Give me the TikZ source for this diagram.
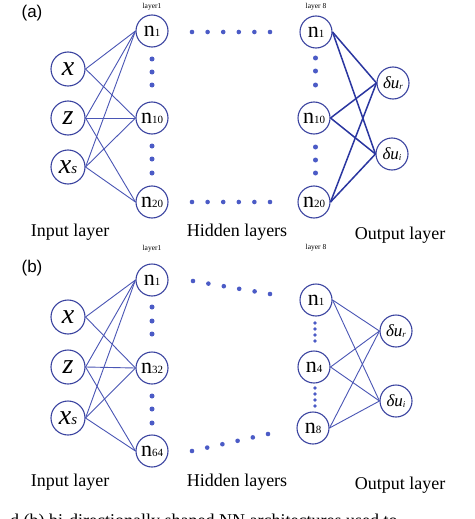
\documentclass[tikz,border=0pt]{standalone}
\usepackage{fontspec}
\setmainfont{Liberation Serif}
\newfontfamily\lsans{Liberation Sans}
\definecolor{nb}{HTML}{3B44A0}
\definecolor{eb}{HTML}{4A56B5}
\definecolor{db}{HTML}{2A36A0}
\definecolor{dotc}{HTML}{4B5BC6}
\newcommand\hn[1]{{\fontsize{22}{22}\selectfont n}{\fontsize{11}{11}\selectfont #1}}
\newcommand\du[1]{{\fontsize{17}{17}\selectfont\itshape δu}\raisebox{-1pt}{\fontsize{9}{9}\selectfont\itshape #1}}
\begin{document}
\begin{tikzpicture}[x=1pt,y=-1pt,
  inp/.style={circle, draw=nb, line width=1.1pt, minimum size=34pt, inner sep=0pt, font=\fontsize{28}{28}\selectfont\itshape},
  hid/.style={circle, draw=nb, line width=1.1pt, minimum size=32pt, inner sep=0pt},
  outn/.style={circle, draw=nb, line width=1.1pt, minimum size=32pt, inner sep=0pt},
  conn/.style={draw=eb, line width=0.9pt},
  conna/.style={draw=db, line width=1.5pt},
  lbl/.style={font=\fontsize{18}{18}\selectfont},
  lay/.style={font=\fontsize{7.5}{7.5}\selectfont},
  pan/.style={font=\lsans\fontsize{17}{17}\selectfont}]
\clip (0,0) rectangle (474,519);
\fill[white] (0,0) rectangle (474,519);

% ---------- panel (a) ----------
\node[pan] (pa) at (32,13) {(a)};
\node[lay] (la1) at (152,7) {layer1};
\node[lay] (la8) at (316,7) {layer 8};
\node[inp] (ax) at (68,69) {x};
\node[inp] (az) at (68,118) {z};
\node[inp] (axs) at (68,167) {x{\fontsize{15}{15}\selectfont s}};
\node[hid] (a1) at (152,31) {\hn{1}};
\node[hid] (a10) at (152,118) {\hn{10}};
\node[hid] (a20) at (152,202) {\hn{20}};
\node[hid] (b1) at (316,32) {\hn{1}};
\node[hid] (b10) at (314,118) {\hn{10}};
\node[hid] (b20) at (314,202) {\hn{20}};
\node[outn] (aur) at (393,83) {\du{r}};
\node[outn] (aui) at (392,154) {\du{i}};

\foreach \s/\t in {ax/a1, ax/a10, az/a1, az/a10, az/a20, axs/a1, axs/a10, axs/a20}
  \draw[conn] (\s.east) -- (\t.west);
\foreach \s in {b1,b10,b20}
  \foreach \t in {aur,aui}
    \draw[conna] (\s.east) -- (\t.west);

\foreach \k in {0,...,5} {
  \fill[dotc] (192+15.6*\k,32) circle (2.3);
  \fill[dotc] (192+15.6*\k,202) circle (2.3);
}
\foreach \y in {59,72,85,146,159,173} \fill[dotc] (152,\y) circle (2.5);
\foreach \y in {58,71,85,147,160,173} \fill[dotc] (315.5,\y) circle (2.5);

\node[lbl] (ia) at (70,232) {Input layer};
\node[lbl] (ha) at (237,232) {Hidden layers};
\node[lbl] (oa) at (400,235) {Output layer};

% ---------- panel (b) ----------
\node[pan] (pb) at (32,268) {(b)};
\node[lay] (lb1) at (152,249) {layer1};
\node[lay] (lb8) at (316,248) {layer 8};
\node[inp] (cx) at (68,317) {x};
\node[inp] (cz) at (68,367) {z};
\node[inp] (cxs) at (68,418) {x{\fontsize{15}{15}\selectfont s}};
\node[hid] (c1) at (152,280) {\hn{1}};
\node[hid] (c32) at (152,368) {\hn{32}};
\node[hid] (c64) at (152,451) {\hn{64}};
\node[hid] (d1) at (316,300) {\hn{1}};
\node[hid] (d4) at (314,367) {\hn{4}};
\node[hid] (d8) at (313,428) {\hn{8}};
\node[outn] (dur) at (396,331) {\du{r}};
\node[outn] (dui) at (396,401) {\du{i}};

\foreach \s/\t in {cx/c1, cx/c32, cz/c1, cz/c32, cz/c64, cxs/c1, cxs/c32, cxs/c64}
  \draw[conn] (\s.east) -- (\t.west);
\foreach \s in {d1,d4,d8}
  \foreach \t in {dur,dui}
    \draw[conn] (\s.east) -- (\t.west);

\foreach \k in {0,...,5} {
  \fill[dotc] (193+15.4*\k,281+2.6*\k) circle (2.3);
  \fill[dotc] (192+15.2*\k,451-3.4*\k) circle (2.3);
}
\foreach \y in {307,321,334,396,409,423} \fill[dotc] (152,\y) circle (2.5);
\foreach \y in {323,329,335,341,388,394,400,406} \fill[dotc] (315,\y) circle (1.8);

\node[lbl] (ib) at (70,482) {Input layer};
\node[lbl] (hb) at (237,482) {Hidden layers};
\node[lbl] (ob) at (400,485) {Output layer};

\node[lbl, anchor=base west, inner sep=0pt] (cap) at (10,526) {d (b) bi-directionally shaped NN architectures used to};
\end{tikzpicture}
\end{document}
